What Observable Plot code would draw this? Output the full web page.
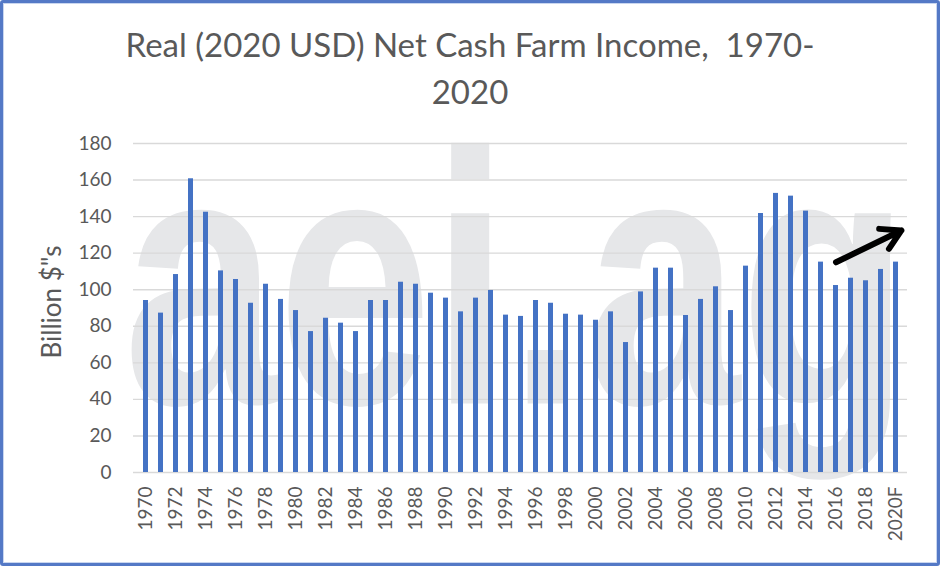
<!DOCTYPE html>
<html>
<head>
<meta charset="utf-8">
<script src="https://cdn.jsdelivr.net/npm/d3@7"></script>
<script src="https://cdn.jsdelivr.net/npm/@observablehq/plot@0.6"></script>
<style>
  body { margin: 0; background: #fff; }
  #wrap { position: relative; width: 940px; height: 566px; overflow: hidden; background: #fff; font-family: Lato, "Open Sans", sans-serif; }
  #title { position: relative; height: 120px; color: #595959; font-size: 33px; }
  #title .line { position: absolute; left: 0; right: 0; text-align: center; white-space: pre; line-height: 30px; }
  #frame { position: absolute; left: 0; top: 0; width: 940px; height: 566px; box-sizing: border-box; border: 3px solid #5479c6; border-radius: 3px; box-shadow: inset 0 0 0 1px #c9d6ef; pointer-events: none; }
  #chart svg { display: block; }
</style>
</head>
<body>
<div id="wrap">
  <div id="title"></div>
  <div id="chart"></div>
  <div id="frame"></div>
</div>
<script>
// ---- data ----
const titleLines = ["Real (2020 USD) Net Cash Farm Income,  1970-", "2020"];
const yAxisLabel = "Billion $\"s";
const watermark = "aei.ag";

const years = [
  "1970","1971","1972","1973","1974","1975","1976","1977","1978","1979",
  "1980","1981","1982","1983","1984","1985","1986","1987","1988","1989",
  "1990","1991","1992","1993","1994","1995","1996","1997","1998","1999",
  "2000","2001","2002","2003","2004","2005","2006","2007","2008","2009",
  "2010","2011","2012","2013","2014","2015","2016","2017","2018","2019",
  "2020F"
];
const income = [
  94.1, 87.2, 108.3, 160.7, 142.4, 110.3, 105.6, 92.6, 103.0, 94.7,
  88.6, 77.1, 84.4, 81.7, 77.1, 94.1, 94.1, 104.1, 103.0, 98.1,
  95.4, 87.9, 95.4, 99.6, 86.1, 85.4, 94.1, 92.6, 86.6, 86.1,
  83.3, 87.9, 71.1, 98.8, 111.8, 111.8, 85.9, 94.7, 101.6, 88.6,
  112.9, 141.7, 152.7, 151.2, 143.0, 115.1, 102.3, 106.3, 104.9, 111.1,
  115.1
];
const yTicks = [0, 20, 40, 60, 80, 100, 120, 140, 160, 180];
const xTickLabels = years.filter((d, i) => i % 2 === 0);
const trendArrow = [{x1: "2016", y1: 115, x2: "2020F", y2: 131}];

// ---- title ----
const titleEl = document.getElementById("title");
titleLines.forEach((t, i) => {
  const d = document.createElement("div");
  d.className = "line";
  d.style.top = (29 + i * 47) + "px";
  d.textContent = t;
  titleEl.appendChild(d);
});

// ---- chart ----
const data = years.map((year, i) => ({year, value: income[i]}));
const textColor = "#595959";

const chart = Plot.plot({
  width: 940,
  height: 446,
  marginTop: 23,
  marginBottom: 94,
  marginLeft: 133,
  marginRight: 33,
  style: {fontFamily: "Lato, 'Open Sans', sans-serif", color: textColor, background: "transparent"},
  x: {type: "band", domain: years, paddingInner: 0.67, paddingOuter: 0.335, label: null},
  y: {domain: [0, 180], label: null},
  marks: [
    Plot.text([watermark], {
      text: d => d, frameAnchor: "bottom-left", textAnchor: "start", lineAnchor: "bottom",
      fontFamily: "'Liberation Sans', Arial, sans-serif", fontWeight: "bold", fontSize: 360,
      fill: "#e6e7e9", dx: -10, dy: -69, className: "watermark"
    }),
    Plot.gridY(yTicks, {stroke: "#d9d9d9", strokeOpacity: 1, strokeWidth: 1.4}),
    Plot.barY(data, {x: "year", y: "value", fill: "#4472c4"}),
    Plot.axisY(yTicks, {tickSize: 0, tickPadding: 22, fontSize: 19, label: null, fill: textColor}),
    Plot.axisX(xTickLabels, {tickSize: 0, tickRotate: -90, tickPadding: 14, fontSize: 19, label: null, fill: textColor}),
    Plot.text([yAxisLabel], {text: d => d, frameAnchor: "left", textAnchor: "middle", lineAnchor: "middle", rotate: -90, dx: -81, dy: -6, fontSize: 26, fill: textColor}),
    Plot.arrow(trendArrow, {x1: "x1", y1: "y1", x2: "x2", y2: "y2", stroke: "#000", strokeWidth: 6, headLength: 6, headAngle: 60, insetEnd: -6})
  ]
});
document.getElementById("chart").appendChild(chart);

// horizontally condense the watermark lettering
d3.select(chart).selectAll(".watermark text").attr("transform", function() {
  return (this.getAttribute("transform") || "") + " scale(0.77,1)";
});
</script>
</body>
</html>
